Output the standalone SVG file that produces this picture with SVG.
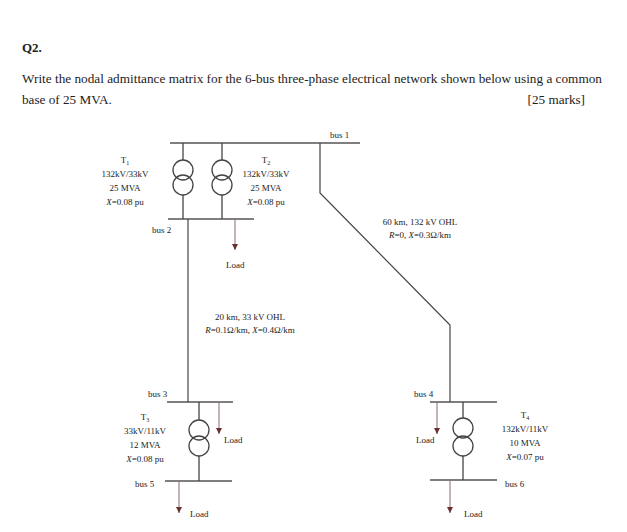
<svg xmlns="http://www.w3.org/2000/svg" width="627" height="532" viewBox="0 0 627 532" font-family="'Liberation Serif','DejaVu Serif',serif">
<style>
text{font-family:'Liberation Serif','Times New Roman',serif;fill:#222}
.s{font-size:9px;text-anchor:middle}
.bus{stroke:#555;stroke-width:1.5;fill:none}
.ln{stroke:#444;stroke-width:1.2;fill:none}
.ld{stroke:#8a6a6a;stroke-width:1;fill:none}
.tr{stroke:#444;stroke-width:1.3;fill:none}
</style>
<defs><marker id="a" markerWidth="7" markerHeight="7" refX="6" refY="3" orient="auto" markerUnits="userSpaceOnUse"><path d="M0,0 L6,3 L0,6 z" fill="#6b3030"/></marker></defs>
<rect width="627" height="532" fill="#fff"/>
<text x="22" y="52" font-size="13" font-weight="bold">Q2.</text>
<text x="22" y="83" font-size="13.2" textLength="580" lengthAdjust="spacingAndGlyphs">Write the nodal admittance matrix for the 6-bus three-phase electrical network shown below using a common</text>
<text x="22" y="104" font-size="13.2">base of 25 MVA.</text>
<text x="585" y="104" font-size="13.2" text-anchor="end">[25 marks]</text>
<g id="buses" font-size="9">
<line class="bus" x1="170" y1="143" x2="360" y2="143"/><text x="330" y="138" font-size="9">bus 1</text>
<line class="bus" x1="168" y1="219" x2="254" y2="219"/><text x="152" y="233" font-size="9">bus 2</text>
<line class="bus" x1="167" y1="402" x2="233" y2="402"/><text x="148" y="397" font-size="9">bus 3</text>
<line class="bus" x1="430" y1="402" x2="497" y2="402"/><text x="414" y="397" font-size="9">bus 4</text>
<line class="bus" x1="165" y1="481" x2="232" y2="481"/><text x="135" y="487" font-size="9">bus 5</text>
<line class="bus" x1="430" y1="480" x2="497" y2="480"/><text x="505" y="487" font-size="9">bus 6</text>
</g>
<g id="T1"><line class="tr" x1="183" y1="143" x2="183" y2="160"/><circle class="tr" cx="183" cy="170" r="10"/><circle class="tr" cx="183" cy="185" r="10"/><line class="tr" x1="183" y1="195" x2="183" y2="219"/>
<text class="s" x="125" y="163">T<tspan font-size="6" dy="2">1</tspan></text><text class="s" x="125" y="177">132kV/33kV</text><text class="s" x="125" y="191">25 MVA</text><text class="s" x="125" y="205"><tspan font-style="italic">X</tspan>=0.08 pu</text></g>
<g id="T2"><line class="tr" x1="222" y1="143" x2="222" y2="160"/><circle class="tr" cx="222" cy="170" r="10"/><circle class="tr" cx="222" cy="185" r="10"/><line class="tr" x1="222" y1="195" x2="222" y2="219"/>
<text class="s" x="266" y="163">T<tspan font-size="6" dy="2">2</tspan></text><text class="s" x="266" y="177">132kV/33kV</text><text class="s" x="266" y="191">25 MVA</text><text class="s" x="266" y="205"><tspan font-style="italic">X</tspan>=0.08 pu</text></g>
<g id="T3"><line class="tr" x1="199" y1="402" x2="199" y2="420"/><circle class="tr" cx="199" cy="430" r="10"/><circle class="tr" cx="199" cy="446" r="10"/><line class="tr" x1="199" y1="456" x2="199" y2="481"/>
<text class="s" x="145" y="420">T<tspan font-size="6" dy="2">3</tspan></text><text class="s" x="145" y="434">33kV/11kV</text><text class="s" x="145" y="448">12 MVA</text><text class="s" x="145" y="462"><tspan font-style="italic">X</tspan>=0.08 pu</text></g>
<g id="T4"><line class="tr" x1="463" y1="402" x2="463" y2="418"/><circle class="tr" cx="463" cy="428" r="10"/><circle class="tr" cx="463" cy="446" r="10"/><line class="tr" x1="463" y1="456" x2="463" y2="480"/>
<text class="s" x="525" y="418">T<tspan font-size="6" dy="2">4</tspan></text><text class="s" x="525" y="432">132kV/11kV</text><text class="s" x="525" y="446">10 MVA</text><text class="s" x="525" y="460"><tspan font-style="italic">X</tspan>=0.07 pu</text></g>
<g id="connectors">
<line class="ln" x1="188" y1="219" x2="188" y2="402"/>
<polyline class="ln" points="320,143 320,193 450,325 450,402"/>
<line class="ld" x1="235" y1="219" x2="235" y2="250" marker-end="url(#a)"/>
<line class="ld" x1="219" y1="402" x2="219" y2="434" marker-end="url(#a)"/>
<line class="ld" x1="437" y1="402" x2="437" y2="434" marker-end="url(#a)"/>
<line class="ld" x1="179" y1="481" x2="179" y2="513" marker-end="url(#a)"/>
<line class="ld" x1="450" y1="480" x2="450" y2="513" marker-end="url(#a)"/>
</g>
<g id="labels">
<text x="226" y="268" font-size="9">Load</text>
<text x="224" y="443" font-size="9">Load</text>
<text x="416" y="443" font-size="9">Load</text>
<text x="190" y="517" font-size="9">Load</text>
<text x="464" y="517" font-size="9">Load</text>
<text class="s" x="420" y="225">60 km, 132 kV OHL</text>
<text class="s" x="420" y="238"><tspan font-style="italic">R</tspan>=0, <tspan font-style="italic">X</tspan>=0.3Ω/km</text>
<text class="s" x="250" y="320">20 km, 33 kV OHL</text>
<text class="s" x="250" y="333"><tspan font-style="italic">R</tspan>=0.1Ω/km, <tspan font-style="italic">X</tspan>=0.4Ω/km</text>
</g>
</svg>
